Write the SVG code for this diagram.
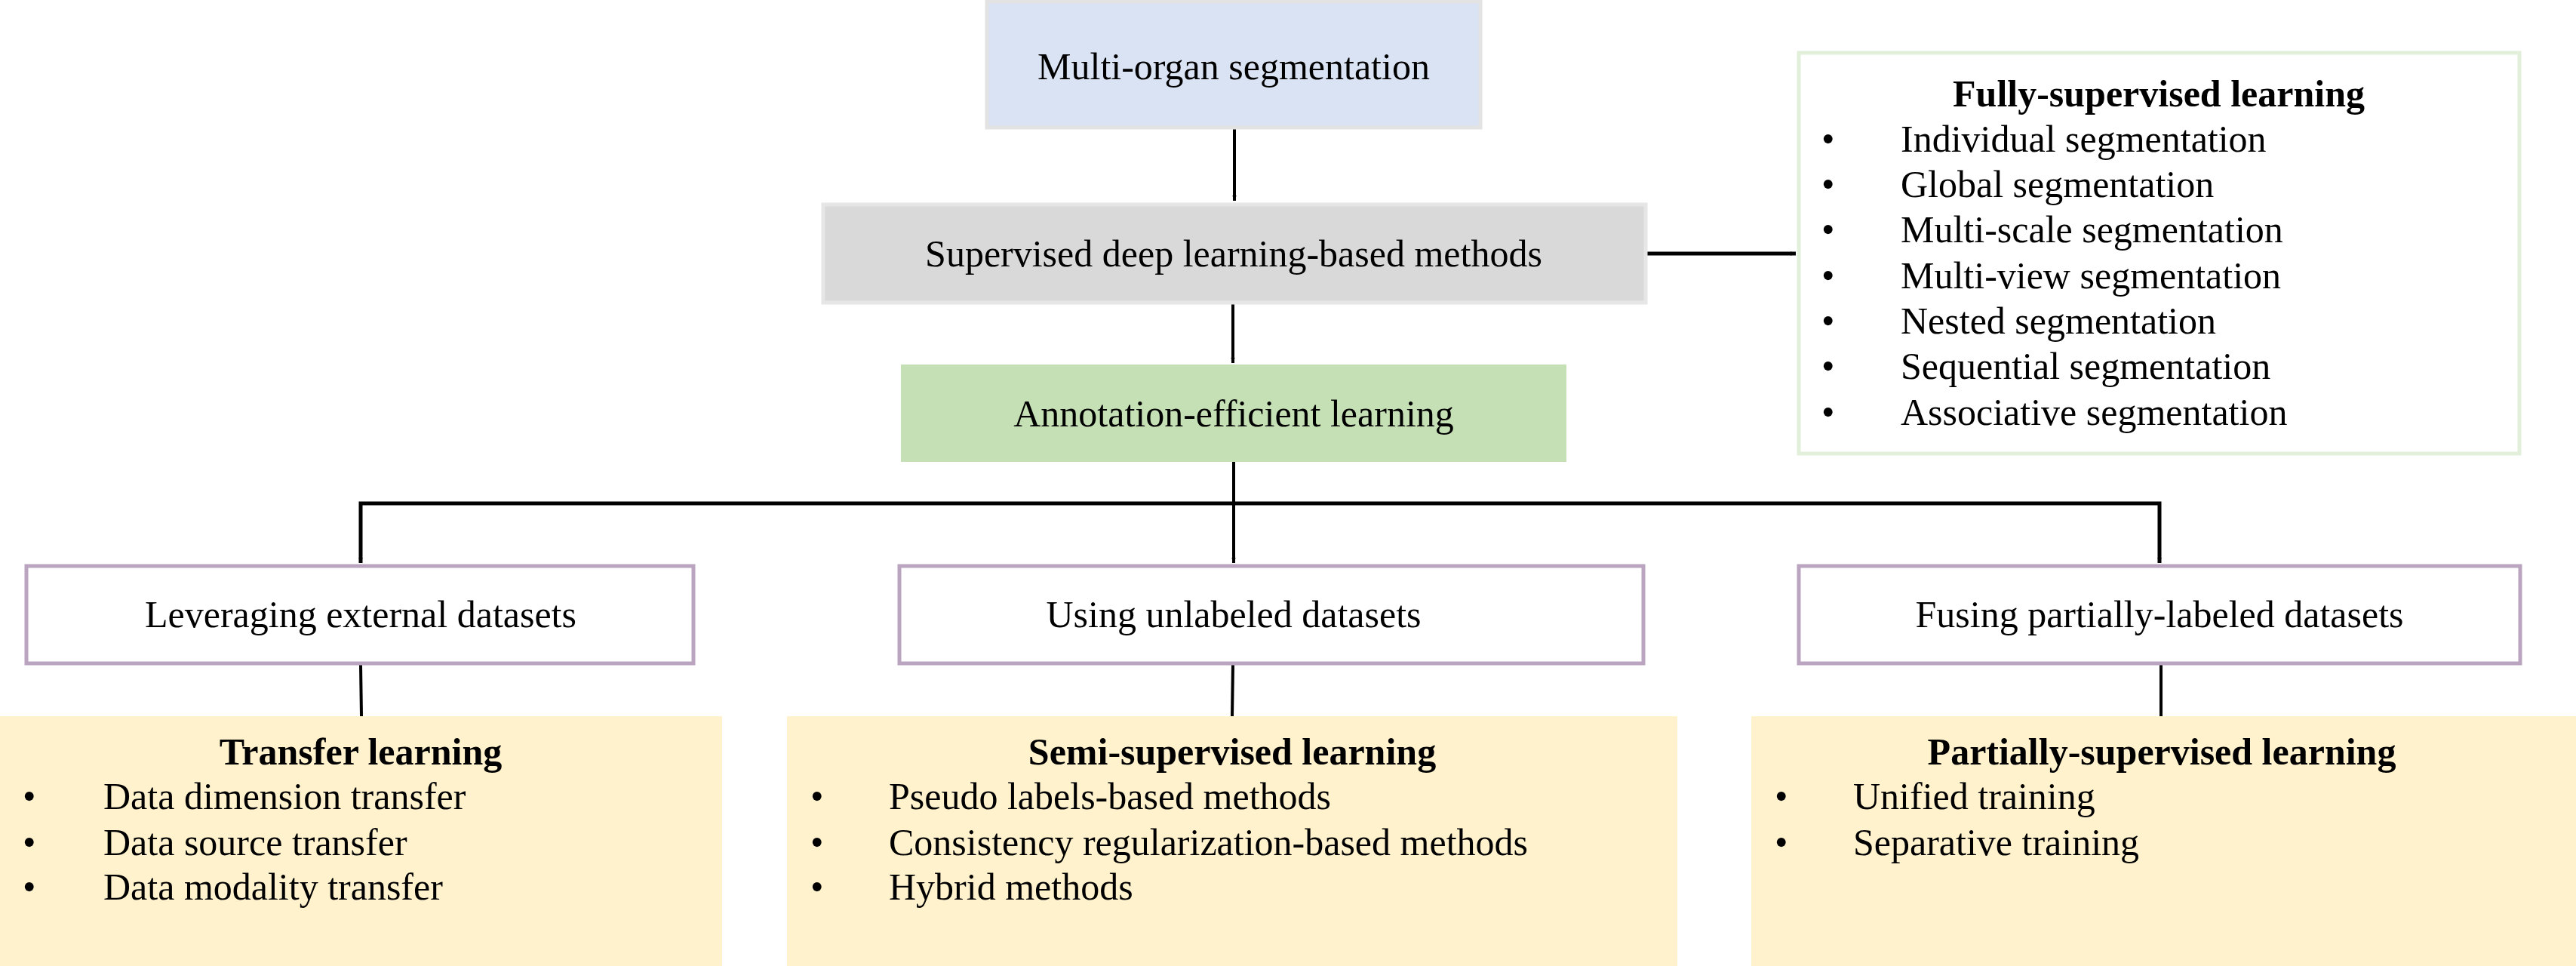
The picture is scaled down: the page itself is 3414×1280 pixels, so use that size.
<svg xmlns="http://www.w3.org/2000/svg" width="3414" height="1280" viewBox="0 0 3414 1280">
<defs>
<style>
text{font-family:"Liberation Serif","Times New Roman",serif;font-size:50px;fill:#000}
.c{text-anchor:middle}
.b{font-weight:bold}
.ln{stroke:#000;stroke-width:5;fill:none}
.purple{fill:#fff;stroke:#baa4c0;stroke-width:5}
.yel{fill:#fff2cc}
</style>
<marker id="ah" viewBox="0 0 20 20" refX="20" refY="10" markerWidth="7" markerHeight="7" markerUnits="userSpaceOnUse" orient="auto" style="overflow:visible">
<path d="M0,2 L20,10 L0,18 L5,10 Z" fill="#000"/>
</marker>
</defs>
<g id="connectors">
<line class="ln" x1="1636" y1="171" x2="1636" y2="266" marker-end="url(#ah)" style="stroke-width:4"/>
<line class="ln" x1="2183" y1="336" x2="2380" y2="336" marker-end="url(#ah)" style="stroke-width:5"/>
<line class="ln" x1="1634" y1="403" x2="1634" y2="481" marker-end="url(#ah)" style="stroke-width:4"/>
<line class="ln" x1="1635" y1="612" x2="1635" y2="746" marker-end="url(#ah)" style="stroke-width:4"/>
<polyline class="ln" points="478,746 478,667 2862,667 2862,746" style="stroke-width:5"/>
<line x1="478" y1="667" x2="478" y2="746" stroke="#000" stroke-width="4" marker-end="url(#ah)"/>
<line x1="2862" y1="667" x2="2862" y2="746" stroke="#000" stroke-width="4" marker-end="url(#ah)"/>
<line class="ln" x1="478" y1="881" x2="479" y2="949" style="stroke-width:4"/>
<line class="ln" x1="1634" y1="881" x2="1633" y2="949" style="stroke-width:4"/>
<line class="ln" x1="2864" y1="881" x2="2864" y2="949" style="stroke-width:4"/>
</g>
<g id="multi-organ">
<rect x="1308" y="2" width="654" height="167" fill="#dae3f3" stroke="#e3e3e3" stroke-width="5"/>
<text class="c" x="1635" y="105">Multi-organ segmentation</text>
</g>
<g id="supervised">
<rect x="1091" y="271" width="1090" height="130" fill="#d9d9d9" stroke="#e6e6e6" stroke-width="5"/>
<text class="c" x="1635" y="353">Supervised deep learning-based methods</text>
</g>
<g id="annotation">
<rect x="1194" y="483" width="882" height="129" fill="#c5e0b4"/>
<text class="c" x="1635" y="565">Annotation-efficient learning</text>
</g>
<g id="fully">
<rect x="2384" y="70" width="955" height="531" fill="#fff" stroke="#e2efda" stroke-width="5"/>
<text class="c b" x="2861" y="141">Fully-supervised learning</text>
<g>
<text x="2414" y="201">•</text><text x="2519" y="201">Individual segmentation</text>
<text x="2414" y="261">•</text><text x="2519" y="261">Global segmentation</text>
<text x="2414" y="321">•</text><text x="2519" y="321">Multi-scale segmentation</text>
<text x="2414" y="382">•</text><text x="2519" y="382">Multi-view segmentation</text>
<text x="2414" y="442">•</text><text x="2519" y="442">Nested segmentation</text>
<text x="2414" y="502">•</text><text x="2519" y="502">Sequential segmentation</text>
<text x="2414" y="563">•</text><text x="2519" y="563">Associative segmentation</text>
</g>
</g>
<g id="leveraging">
<rect class="purple" x="35" y="750" width="884" height="129"/>
<text class="c" x="478" y="831">Leveraging external datasets</text>
</g>
<g id="unlabeled">
<rect class="purple" x="1192" y="750" width="986" height="129"/>
<text class="c" x="1635" y="831">Using unlabeled datasets</text>
</g>
<g id="fusing">
<rect class="purple" x="2384" y="750" width="956" height="129"/>
<text class="c" x="2862" y="831">Fusing partially-labeled datasets</text>
</g>
<g id="transfer">
<rect class="yel" x="0" y="949" width="957" height="331"/>
<text class="c b" x="478" y="1013">Transfer learning</text>
<text x="30" y="1072">•</text><text x="137" y="1072">Data dimension transfer</text>
<text x="30" y="1133">•</text><text x="137" y="1133">Data source transfer</text>
<text x="30" y="1192">•</text><text x="137" y="1192">Data modality transfer</text>
</g>
<g id="semi">
<rect class="yel" x="1043" y="949" width="1180" height="331"/>
<text class="c b" x="1633" y="1013">Semi-supervised learning</text>
<text x="1074" y="1072">•</text><text x="1178" y="1072">Pseudo labels-based methods</text>
<text x="1074" y="1133">•</text><text x="1178" y="1133">Consistency regularization-based methods</text>
<text x="1074" y="1192">•</text><text x="1178" y="1192">Hybrid methods</text>
</g>
<g id="partial">
<rect class="yel" x="2321" y="949" width="1093" height="331"/>
<text class="c b" x="2865" y="1013">Partially-supervised learning</text>
<text x="2352" y="1072">•</text><text x="2456" y="1072">Unified training</text>
<text x="2352" y="1133">•</text><text x="2456" y="1133">Separative training</text>
</g>
</svg>
